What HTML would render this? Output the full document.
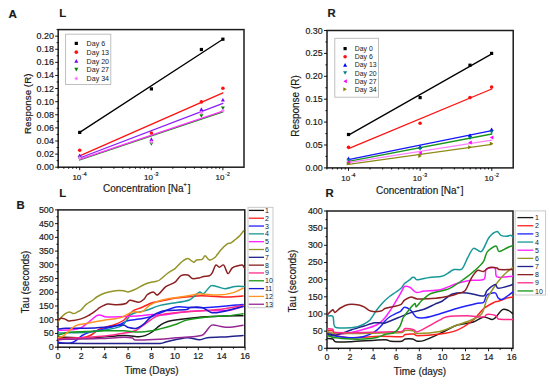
<!DOCTYPE html>
<html><head><meta charset="utf-8"><style>
html,body{margin:0;padding:0;background:#fff;width:550px;height:384px;overflow:hidden}
svg{display:block}
text{font-family:"Liberation Sans",sans-serif;stroke:#1a1a1a;stroke-width:0.18px}
text.ns{stroke:none}
</style></head><body>
<svg width="550" height="384" viewBox="0 0 550 384" font-family='"Liberation Sans", sans-serif'>
<rect width="550" height="384" fill="#fff"/>
<text x="8.5" y="18.4" font-size="11.6" text-anchor="start" font-weight="bold" fill="#1a1a1a" >A</text>
<text x="59.3" y="17" font-size="11.3" text-anchor="start" font-weight="bold" fill="#1a1a1a" >L</text>
<rect x="58.2" y="29.6" width="185.8" height="137.6" fill="none" stroke="#1c1c1c" stroke-width="1.5"/>
<line x1="55.2" y1="167.2" x2="58.2" y2="167.2" stroke="#000" stroke-width="0.9"/>
<text x="53.9" y="170.2" font-size="8.9" text-anchor="end" font-weight="normal" fill="#1a1a1a" >0.00</text>
<line x1="56.6" y1="160.65" x2="58.2" y2="160.65" stroke="#000" stroke-width="0.9"/>
<line x1="55.2" y1="154.1" x2="58.2" y2="154.1" stroke="#000" stroke-width="0.9"/>
<text x="53.9" y="157.1" font-size="8.9" text-anchor="end" font-weight="normal" fill="#1a1a1a" >0.02</text>
<line x1="56.6" y1="147.54" x2="58.2" y2="147.54" stroke="#000" stroke-width="0.9"/>
<line x1="55.2" y1="140.99" x2="58.2" y2="140.99" stroke="#000" stroke-width="0.9"/>
<text x="53.9" y="143.99" font-size="8.9" text-anchor="end" font-weight="normal" fill="#1a1a1a" >0.04</text>
<line x1="56.6" y1="134.44" x2="58.2" y2="134.44" stroke="#000" stroke-width="0.9"/>
<line x1="55.2" y1="127.89" x2="58.2" y2="127.89" stroke="#000" stroke-width="0.9"/>
<text x="53.9" y="130.89" font-size="8.9" text-anchor="end" font-weight="normal" fill="#1a1a1a" >0.06</text>
<line x1="56.6" y1="121.33" x2="58.2" y2="121.33" stroke="#000" stroke-width="0.9"/>
<line x1="55.2" y1="114.78" x2="58.2" y2="114.78" stroke="#000" stroke-width="0.9"/>
<text x="53.9" y="117.78" font-size="8.9" text-anchor="end" font-weight="normal" fill="#1a1a1a" >0.08</text>
<line x1="56.6" y1="108.23" x2="58.2" y2="108.23" stroke="#000" stroke-width="0.9"/>
<line x1="55.2" y1="101.68" x2="58.2" y2="101.68" stroke="#000" stroke-width="0.9"/>
<text x="53.9" y="104.68" font-size="8.9" text-anchor="end" font-weight="normal" fill="#1a1a1a" >0.10</text>
<line x1="56.6" y1="95.12" x2="58.2" y2="95.12" stroke="#000" stroke-width="0.9"/>
<line x1="55.2" y1="88.57" x2="58.2" y2="88.57" stroke="#000" stroke-width="0.9"/>
<text x="53.9" y="91.57" font-size="8.9" text-anchor="end" font-weight="normal" fill="#1a1a1a" >0.12</text>
<line x1="56.6" y1="82.02" x2="58.2" y2="82.02" stroke="#000" stroke-width="0.9"/>
<line x1="55.2" y1="75.47" x2="58.2" y2="75.47" stroke="#000" stroke-width="0.9"/>
<text x="53.9" y="78.47" font-size="8.9" text-anchor="end" font-weight="normal" fill="#1a1a1a" >0.14</text>
<line x1="56.6" y1="68.91" x2="58.2" y2="68.91" stroke="#000" stroke-width="0.9"/>
<line x1="55.2" y1="62.36" x2="58.2" y2="62.36" stroke="#000" stroke-width="0.9"/>
<text x="53.9" y="65.36" font-size="8.9" text-anchor="end" font-weight="normal" fill="#1a1a1a" >0.16</text>
<line x1="56.6" y1="55.81" x2="58.2" y2="55.81" stroke="#000" stroke-width="0.9"/>
<line x1="55.2" y1="49.26" x2="58.2" y2="49.26" stroke="#000" stroke-width="0.9"/>
<text x="53.9" y="52.26" font-size="8.9" text-anchor="end" font-weight="normal" fill="#1a1a1a" >0.18</text>
<line x1="56.6" y1="42.7" x2="58.2" y2="42.7" stroke="#000" stroke-width="0.9"/>
<line x1="55.2" y1="36.15" x2="58.2" y2="36.15" stroke="#000" stroke-width="0.9"/>
<text x="53.9" y="39.15" font-size="8.9" text-anchor="end" font-weight="normal" fill="#1a1a1a" >0.20</text>
<line x1="56.6" y1="29.6" x2="58.2" y2="29.6" stroke="#000" stroke-width="0.9"/>
<line x1="58.15" y1="167.2" x2="58.15" y2="168.8" stroke="#000" stroke-width="0.9"/>
<line x1="63.82" y1="167.2" x2="63.82" y2="168.8" stroke="#000" stroke-width="0.9"/>
<line x1="68.61" y1="167.2" x2="68.61" y2="168.8" stroke="#000" stroke-width="0.9"/>
<line x1="72.76" y1="167.2" x2="72.76" y2="168.8" stroke="#000" stroke-width="0.9"/>
<line x1="76.42" y1="167.2" x2="76.42" y2="168.8" stroke="#000" stroke-width="0.9"/>
<line x1="79.7" y1="167.2" x2="79.7" y2="170.2" stroke="#000" stroke-width="0.9"/>
<line x1="101.25" y1="167.2" x2="101.25" y2="168.8" stroke="#000" stroke-width="0.9"/>
<line x1="113.86" y1="167.2" x2="113.86" y2="168.8" stroke="#000" stroke-width="0.9"/>
<line x1="122.81" y1="167.2" x2="122.81" y2="168.8" stroke="#000" stroke-width="0.9"/>
<line x1="129.75" y1="167.2" x2="129.75" y2="168.8" stroke="#000" stroke-width="0.9"/>
<line x1="135.42" y1="167.2" x2="135.42" y2="168.8" stroke="#000" stroke-width="0.9"/>
<line x1="140.21" y1="167.2" x2="140.21" y2="168.8" stroke="#000" stroke-width="0.9"/>
<line x1="144.36" y1="167.2" x2="144.36" y2="168.8" stroke="#000" stroke-width="0.9"/>
<line x1="148.02" y1="167.2" x2="148.02" y2="168.8" stroke="#000" stroke-width="0.9"/>
<line x1="151.3" y1="167.2" x2="151.3" y2="170.2" stroke="#000" stroke-width="0.9"/>
<line x1="172.85" y1="167.2" x2="172.85" y2="168.8" stroke="#000" stroke-width="0.9"/>
<line x1="185.46" y1="167.2" x2="185.46" y2="168.8" stroke="#000" stroke-width="0.9"/>
<line x1="194.41" y1="167.2" x2="194.41" y2="168.8" stroke="#000" stroke-width="0.9"/>
<line x1="201.35" y1="167.2" x2="201.35" y2="168.8" stroke="#000" stroke-width="0.9"/>
<line x1="207.02" y1="167.2" x2="207.02" y2="168.8" stroke="#000" stroke-width="0.9"/>
<line x1="211.81" y1="167.2" x2="211.81" y2="168.8" stroke="#000" stroke-width="0.9"/>
<line x1="215.96" y1="167.2" x2="215.96" y2="168.8" stroke="#000" stroke-width="0.9"/>
<line x1="219.62" y1="167.2" x2="219.62" y2="168.8" stroke="#000" stroke-width="0.9"/>
<line x1="222.9" y1="167.2" x2="222.9" y2="170.2" stroke="#000" stroke-width="0.9"/>
<text x="81.3" y="180.1" font-size="8.0" text-anchor="end" font-weight="normal" fill="#1a1a1a" >10</text>
<text x="82.1" y="176.4" font-size="5.2" text-anchor="start" font-weight="normal" fill="#1a1a1a" >-4</text>
<text x="152.9" y="180.1" font-size="8.0" text-anchor="end" font-weight="normal" fill="#1a1a1a" >10</text>
<text x="153.7" y="176.4" font-size="5.2" text-anchor="start" font-weight="normal" fill="#1a1a1a" >-3</text>
<text x="224.5" y="180.1" font-size="8.0" text-anchor="end" font-weight="normal" fill="#1a1a1a" >10</text>
<text x="225.3" y="176.4" font-size="5.2" text-anchor="start" font-weight="normal" fill="#1a1a1a" >-2</text>
<polyline points="79.7,160 222.9,111.8" fill="none" stroke="#009000" stroke-width="1.3" stroke-linejoin="round" stroke-linecap="round"/>
<polyline points="79.7,132.4 222.9,39.2" fill="none" stroke="#000000" stroke-width="1.3" stroke-linejoin="round" stroke-linecap="round"/>
<polyline points="79.7,155.8 222.9,92.9" fill="none" stroke="#ff1010" stroke-width="1.3" stroke-linejoin="round" stroke-linecap="round"/>
<polyline points="79.7,158 222.9,103.3" fill="none" stroke="#8a1cff" stroke-width="1.3" stroke-linejoin="round" stroke-linecap="round"/>
<polyline points="79.7,159.3 222.9,111.1" fill="none" stroke="#ff30ff" stroke-width="1.3" stroke-linejoin="round" stroke-linecap="round"/>
<rect x="78.1" y="130.8" width="3.2" height="3.2" fill="#000"/>
<rect x="149.8" y="87.3" width="3.2" height="3.2" fill="#000"/>
<rect x="199.8" y="47.9" width="3.2" height="3.2" fill="#000"/>
<rect x="221.3" y="37.6" width="3.2" height="3.2" fill="#000"/>
<circle cx="79.7" cy="150.2" r="1.8" fill="#ff1010"/>
<circle cx="151.4" cy="133" r="1.8" fill="#ff1010"/>
<circle cx="201.4" cy="101.9" r="1.8" fill="#ff1010"/>
<circle cx="222.9" cy="88.3" r="1.8" fill="#ff1010"/>
<polygon points="79.7,153.5 81.7,157.1 77.7,157.1" fill="#7a00ff"/>
<polygon points="151.4,137.3 153.4,140.9 149.4,140.9" fill="#7a00ff"/>
<polygon points="201.4,107.3 203.4,110.9 199.4,110.9" fill="#7a00ff"/>
<polygon points="222.9,97.9 224.9,101.5 220.9,101.5" fill="#7a00ff"/>
<polygon points="79.7,160.4 81.7,156.8 77.7,156.8" fill="#008000"/>
<polygon points="151.4,145.7 153.4,142.1 149.4,142.1" fill="#008000"/>
<polygon points="201.4,117.8 203.4,114.2 199.4,114.2" fill="#008000"/>
<polygon points="222.9,110 224.9,106.4 220.9,106.4" fill="#008000"/>
<polygon points="79.7,156 81.7,158 79.7,160 77.7,158" fill="#ff80ff"/>
<polygon points="151.4,139.9 153.4,141.9 151.4,143.9 149.4,141.9" fill="#ff80ff"/>
<polygon points="201.4,110.7 203.4,112.7 201.4,114.7 199.4,112.7" fill="#ff80ff"/>
<polygon points="222.9,108.6 224.9,110.6 222.9,112.6 220.9,110.6" fill="#ff80ff"/>
<rect x="65.6" y="34.2" width="45.2" height="50.3" fill="none" stroke="#b8b8b8" stroke-width="0.9"/>
<rect x="74.7" y="41.8" width="3.2" height="3.2" fill="#000"/>
<text x="86.6" y="46" font-size="7.1" text-anchor="start" font-weight="normal" fill="#1a1a1a" class="ns">Day 6</text>
<circle cx="76.3" cy="52.15" r="1.8" fill="#ff1010"/>
<text x="86.6" y="54.75" font-size="7.1" text-anchor="start" font-weight="normal" fill="#1a1a1a" class="ns">Day 13</text>
<polygon points="76.3,59.1 78.3,62.7 74.3,62.7" fill="#7a00ff"/>
<text x="86.6" y="63.5" font-size="7.1" text-anchor="start" font-weight="normal" fill="#1a1a1a" class="ns">Day 20</text>
<polygon points="76.3,71.45 78.3,67.85 74.3,67.85" fill="#008000"/>
<text x="86.6" y="72.25" font-size="7.1" text-anchor="start" font-weight="normal" fill="#1a1a1a" class="ns">Day 27</text>
<polygon points="76.3,76.4 78.3,78.4 76.3,80.4 74.3,78.4" fill="#ff80ff"/>
<text x="86.6" y="81" font-size="7.1" text-anchor="start" font-weight="normal" fill="#1a1a1a" class="ns">Day 34</text>
<text x="146.75" y="192" font-size="10.0" text-anchor="middle" font-weight="normal" fill="#1a1a1a" >Concentration [Na<tspan font-size="5.5" dy="-5.6">+</tspan><tspan dy="5.6" dx="0.9">]</tspan></text>
<text x="0" y="0" font-size="9.8" text-anchor="middle" font-weight="normal" fill="#1a1a1a" transform="translate(30.8,103.75) rotate(-90)">Response (R)</text>
<text x="327.5" y="17" font-size="11.3" text-anchor="start" font-weight="bold" fill="#1a1a1a" >R</text>
<rect x="327" y="30.5" width="186.2" height="137.4" fill="none" stroke="#1c1c1c" stroke-width="1.5"/>
<line x1="324" y1="167.9" x2="327" y2="167.9" stroke="#000" stroke-width="0.9"/>
<text x="322.7" y="170.9" font-size="8.9" text-anchor="end" font-weight="normal" fill="#1a1a1a" >0.00</text>
<line x1="325.4" y1="156.45" x2="327" y2="156.45" stroke="#000" stroke-width="0.9"/>
<line x1="324" y1="145" x2="327" y2="145" stroke="#000" stroke-width="0.9"/>
<text x="322.7" y="148" font-size="8.9" text-anchor="end" font-weight="normal" fill="#1a1a1a" >0.05</text>
<line x1="325.4" y1="133.55" x2="327" y2="133.55" stroke="#000" stroke-width="0.9"/>
<line x1="324" y1="122.1" x2="327" y2="122.1" stroke="#000" stroke-width="0.9"/>
<text x="322.7" y="125.1" font-size="8.9" text-anchor="end" font-weight="normal" fill="#1a1a1a" >0.10</text>
<line x1="325.4" y1="110.65" x2="327" y2="110.65" stroke="#000" stroke-width="0.9"/>
<line x1="324" y1="99.2" x2="327" y2="99.2" stroke="#000" stroke-width="0.9"/>
<text x="322.7" y="102.2" font-size="8.9" text-anchor="end" font-weight="normal" fill="#1a1a1a" >0.15</text>
<line x1="325.4" y1="87.75" x2="327" y2="87.75" stroke="#000" stroke-width="0.9"/>
<line x1="324" y1="76.3" x2="327" y2="76.3" stroke="#000" stroke-width="0.9"/>
<text x="322.7" y="79.3" font-size="8.9" text-anchor="end" font-weight="normal" fill="#1a1a1a" >0.20</text>
<line x1="325.4" y1="64.85" x2="327" y2="64.85" stroke="#000" stroke-width="0.9"/>
<line x1="324" y1="53.4" x2="327" y2="53.4" stroke="#000" stroke-width="0.9"/>
<text x="322.7" y="56.4" font-size="8.9" text-anchor="end" font-weight="normal" fill="#1a1a1a" >0.25</text>
<line x1="325.4" y1="41.95" x2="327" y2="41.95" stroke="#000" stroke-width="0.9"/>
<line x1="324" y1="30.5" x2="327" y2="30.5" stroke="#000" stroke-width="0.9"/>
<text x="322.7" y="33.5" font-size="8.9" text-anchor="end" font-weight="normal" fill="#1a1a1a" >0.30</text>
<line x1="326.93" y1="167.9" x2="326.93" y2="169.5" stroke="#000" stroke-width="0.9"/>
<line x1="332.6" y1="167.9" x2="332.6" y2="169.5" stroke="#000" stroke-width="0.9"/>
<line x1="337.4" y1="167.9" x2="337.4" y2="169.5" stroke="#000" stroke-width="0.9"/>
<line x1="341.56" y1="167.9" x2="341.56" y2="169.5" stroke="#000" stroke-width="0.9"/>
<line x1="345.22" y1="167.9" x2="345.22" y2="169.5" stroke="#000" stroke-width="0.9"/>
<line x1="348.5" y1="167.9" x2="348.5" y2="170.9" stroke="#000" stroke-width="0.9"/>
<line x1="370.07" y1="167.9" x2="370.07" y2="169.5" stroke="#000" stroke-width="0.9"/>
<line x1="382.69" y1="167.9" x2="382.69" y2="169.5" stroke="#000" stroke-width="0.9"/>
<line x1="391.64" y1="167.9" x2="391.64" y2="169.5" stroke="#000" stroke-width="0.9"/>
<line x1="398.58" y1="167.9" x2="398.58" y2="169.5" stroke="#000" stroke-width="0.9"/>
<line x1="404.25" y1="167.9" x2="404.25" y2="169.5" stroke="#000" stroke-width="0.9"/>
<line x1="409.05" y1="167.9" x2="409.05" y2="169.5" stroke="#000" stroke-width="0.9"/>
<line x1="413.21" y1="167.9" x2="413.21" y2="169.5" stroke="#000" stroke-width="0.9"/>
<line x1="416.87" y1="167.9" x2="416.87" y2="169.5" stroke="#000" stroke-width="0.9"/>
<line x1="420.15" y1="167.9" x2="420.15" y2="170.9" stroke="#000" stroke-width="0.9"/>
<line x1="441.72" y1="167.9" x2="441.72" y2="169.5" stroke="#000" stroke-width="0.9"/>
<line x1="454.34" y1="167.9" x2="454.34" y2="169.5" stroke="#000" stroke-width="0.9"/>
<line x1="463.29" y1="167.9" x2="463.29" y2="169.5" stroke="#000" stroke-width="0.9"/>
<line x1="470.23" y1="167.9" x2="470.23" y2="169.5" stroke="#000" stroke-width="0.9"/>
<line x1="475.9" y1="167.9" x2="475.9" y2="169.5" stroke="#000" stroke-width="0.9"/>
<line x1="480.7" y1="167.9" x2="480.7" y2="169.5" stroke="#000" stroke-width="0.9"/>
<line x1="484.86" y1="167.9" x2="484.86" y2="169.5" stroke="#000" stroke-width="0.9"/>
<line x1="488.52" y1="167.9" x2="488.52" y2="169.5" stroke="#000" stroke-width="0.9"/>
<line x1="491.8" y1="167.9" x2="491.8" y2="170.9" stroke="#000" stroke-width="0.9"/>
<text x="350.1" y="180.8" font-size="8.0" text-anchor="end" font-weight="normal" fill="#1a1a1a" >10</text>
<text x="350.9" y="177.1" font-size="5.2" text-anchor="start" font-weight="normal" fill="#1a1a1a" >-4</text>
<text x="421.75" y="180.8" font-size="8.0" text-anchor="end" font-weight="normal" fill="#1a1a1a" >10</text>
<text x="422.55" y="177.1" font-size="5.2" text-anchor="start" font-weight="normal" fill="#1a1a1a" >-3</text>
<text x="493.4" y="180.8" font-size="8.0" text-anchor="end" font-weight="normal" fill="#1a1a1a" >10</text>
<text x="494.2" y="177.1" font-size="5.2" text-anchor="start" font-weight="normal" fill="#1a1a1a" >-2</text>
<polyline points="348.5,135.1 491.8,53.9" fill="none" stroke="#000" stroke-width="1.3" stroke-linejoin="round" stroke-linecap="round"/>
<polyline points="348.5,148.6 491.8,89" fill="none" stroke="#ff1010" stroke-width="1.3" stroke-linejoin="round" stroke-linecap="round"/>
<polyline points="348.5,159.7 491.8,130.7" fill="none" stroke="#1515ff" stroke-width="1.3" stroke-linejoin="round" stroke-linecap="round"/>
<polyline points="348.5,161.4 491.8,134" fill="none" stroke="#1a961a" stroke-width="1.3" stroke-linejoin="round" stroke-linecap="round"/>
<polyline points="348.5,162.7 491.8,140.2" fill="none" stroke="#ff80ff" stroke-width="1.3" stroke-linejoin="round" stroke-linecap="round"/>
<polyline points="348.5,164.3 491.8,144.3" fill="none" stroke="#8c8c1a" stroke-width="1.3" stroke-linejoin="round" stroke-linecap="round"/>
<rect x="346.9" y="132.9" width="3.2" height="3.2" fill="#000"/>
<rect x="418.5" y="96" width="3.2" height="3.2" fill="#000"/>
<rect x="468.4" y="63.6" width="3.2" height="3.2" fill="#000"/>
<rect x="490" y="51.8" width="3.2" height="3.2" fill="#000"/>
<circle cx="348.5" cy="147.3" r="1.8" fill="#ff1010"/>
<circle cx="420.1" cy="123.2" r="1.8" fill="#ff1010"/>
<circle cx="470" cy="97.6" r="1.8" fill="#ff1010"/>
<circle cx="491.6" cy="87.1" r="1.8" fill="#ff1010"/>
<polygon points="348.5,156.6 350.5,160.2 346.5,160.2" fill="#0000ff"/>
<polygon points="420.1,145.1 422.1,148.7 418.1,148.7" fill="#0000ff"/>
<polygon points="470,133.4 472,137 468,137" fill="#0000ff"/>
<polygon points="491.6,127.4 493.6,131 489.6,131" fill="#0000ff"/>
<polygon points="348.5,162.3 350.5,158.7 346.5,158.7" fill="#008080"/>
<polygon points="420.1,150.8 422.1,147.2 418.1,147.2" fill="#008080"/>
<polygon points="470,140.1 472,136.5 468,136.5" fill="#008080"/>
<polygon points="491.6,134.1 493.6,130.5 489.6,130.5" fill="#008080"/>
<polygon points="346.7,162 350.3,160 350.3,164" fill="#ff00ff"/>
<polygon points="418.3,153 421.9,151 421.9,155" fill="#ff00ff"/>
<polygon points="468.2,142.6 471.8,140.6 471.8,144.6" fill="#ff00ff"/>
<polygon points="489.8,137.6 493.4,135.6 493.4,139.6" fill="#ff00ff"/>
<polygon points="350.3,163.5 346.7,161.5 346.7,165.5" fill="#808000"/>
<polygon points="421.9,156 418.3,154 418.3,158" fill="#808000"/>
<polygon points="471.8,147.2 468.2,145.2 468.2,149.2" fill="#808000"/>
<polygon points="493.4,143.6 489.8,141.6 489.8,145.6" fill="#808000"/>
<rect x="334.8" y="38.3" width="43.7" height="58.9" fill="none" stroke="#b8b8b8" stroke-width="0.9"/>
<rect x="343.5" y="47" width="3.2" height="3.2" fill="#000"/>
<text x="354.8" y="51.1" font-size="6.9" text-anchor="start" font-weight="normal" fill="#1a1a1a" class="ns">Day 0</text>
<circle cx="345.1" cy="56.75" r="1.8" fill="#ff1010"/>
<text x="354.8" y="59.25" font-size="6.9" text-anchor="start" font-weight="normal" fill="#1a1a1a" class="ns">Day 6</text>
<polygon points="345.1,63.1 347.1,66.7 343.1,66.7" fill="#0000ff"/>
<text x="354.8" y="67.4" font-size="6.9" text-anchor="start" font-weight="normal" fill="#1a1a1a" class="ns">Day 13</text>
<polygon points="345.1,74.85 347.1,71.25 343.1,71.25" fill="#008080"/>
<text x="354.8" y="75.55" font-size="6.9" text-anchor="start" font-weight="normal" fill="#1a1a1a" class="ns">Day 20</text>
<polygon points="343.3,81.2 346.9,79.2 346.9,83.2" fill="#ff00ff"/>
<text x="354.8" y="83.7" font-size="6.9" text-anchor="start" font-weight="normal" fill="#1a1a1a" class="ns">Day 27</text>
<polygon points="346.9,89.35 343.3,87.35 343.3,91.35" fill="#808000"/>
<text x="354.8" y="91.85" font-size="6.9" text-anchor="start" font-weight="normal" fill="#1a1a1a" class="ns">Day 34</text>
<text x="419.75" y="194.3" font-size="10.0" text-anchor="middle" font-weight="normal" fill="#1a1a1a" >Concentration [Na<tspan font-size="5.5" dy="-5.6">+</tspan><tspan dy="5.6" dx="0.9">]</tspan></text>
<text x="0" y="0" font-size="10.0" text-anchor="middle" font-weight="normal" fill="#1a1a1a" transform="translate(298.9,106) rotate(-90)">Response (R)</text>
<text x="16.4" y="209" font-size="11.3" text-anchor="start" font-weight="bold" fill="#1a1a1a" >B</text>
<text x="59.3" y="196.8" font-size="11.3" text-anchor="start" font-weight="bold" fill="#1a1a1a" >L</text>
<rect x="58" y="209.9" width="186.8" height="137.3" fill="none" stroke="#1c1c1c" stroke-width="1.5"/>
<line x1="55" y1="347.2" x2="58" y2="347.2" stroke="#000" stroke-width="0.9"/>
<text x="53.7" y="350.2" font-size="8.9" text-anchor="end" font-weight="normal" fill="#1a1a1a" >0</text>
<line x1="56.4" y1="340.33" x2="58" y2="340.33" stroke="#000" stroke-width="0.9"/>
<line x1="55" y1="333.47" x2="58" y2="333.47" stroke="#000" stroke-width="0.9"/>
<text x="53.7" y="336.47" font-size="8.9" text-anchor="end" font-weight="normal" fill="#1a1a1a" >50</text>
<line x1="56.4" y1="326.61" x2="58" y2="326.61" stroke="#000" stroke-width="0.9"/>
<line x1="55" y1="319.74" x2="58" y2="319.74" stroke="#000" stroke-width="0.9"/>
<text x="53.7" y="322.74" font-size="8.9" text-anchor="end" font-weight="normal" fill="#1a1a1a" >100</text>
<line x1="56.4" y1="312.88" x2="58" y2="312.88" stroke="#000" stroke-width="0.9"/>
<line x1="55" y1="306.01" x2="58" y2="306.01" stroke="#000" stroke-width="0.9"/>
<text x="53.7" y="309.01" font-size="8.9" text-anchor="end" font-weight="normal" fill="#1a1a1a" >150</text>
<line x1="56.4" y1="299.14" x2="58" y2="299.14" stroke="#000" stroke-width="0.9"/>
<line x1="55" y1="292.28" x2="58" y2="292.28" stroke="#000" stroke-width="0.9"/>
<text x="53.7" y="295.28" font-size="8.9" text-anchor="end" font-weight="normal" fill="#1a1a1a" >200</text>
<line x1="56.4" y1="285.42" x2="58" y2="285.42" stroke="#000" stroke-width="0.9"/>
<line x1="55" y1="278.55" x2="58" y2="278.55" stroke="#000" stroke-width="0.9"/>
<text x="53.7" y="281.55" font-size="8.9" text-anchor="end" font-weight="normal" fill="#1a1a1a" >250</text>
<line x1="56.4" y1="271.69" x2="58" y2="271.69" stroke="#000" stroke-width="0.9"/>
<line x1="55" y1="264.82" x2="58" y2="264.82" stroke="#000" stroke-width="0.9"/>
<text x="53.7" y="267.82" font-size="8.9" text-anchor="end" font-weight="normal" fill="#1a1a1a" >300</text>
<line x1="56.4" y1="257.95" x2="58" y2="257.95" stroke="#000" stroke-width="0.9"/>
<line x1="55" y1="251.09" x2="58" y2="251.09" stroke="#000" stroke-width="0.9"/>
<text x="53.7" y="254.09" font-size="8.9" text-anchor="end" font-weight="normal" fill="#1a1a1a" >350</text>
<line x1="56.4" y1="244.23" x2="58" y2="244.23" stroke="#000" stroke-width="0.9"/>
<line x1="55" y1="237.36" x2="58" y2="237.36" stroke="#000" stroke-width="0.9"/>
<text x="53.7" y="240.36" font-size="8.9" text-anchor="end" font-weight="normal" fill="#1a1a1a" >400</text>
<line x1="56.4" y1="230.5" x2="58" y2="230.5" stroke="#000" stroke-width="0.9"/>
<line x1="55" y1="223.63" x2="58" y2="223.63" stroke="#000" stroke-width="0.9"/>
<text x="53.7" y="226.63" font-size="8.9" text-anchor="end" font-weight="normal" fill="#1a1a1a" >450</text>
<line x1="56.4" y1="216.77" x2="58" y2="216.77" stroke="#000" stroke-width="0.9"/>
<line x1="55" y1="209.9" x2="58" y2="209.9" stroke="#000" stroke-width="0.9"/>
<text x="53.7" y="212.9" font-size="8.9" text-anchor="end" font-weight="normal" fill="#1a1a1a" >500</text>
<line x1="57.9" y1="347.2" x2="57.9" y2="350.2" stroke="#000" stroke-width="0.9"/>
<text x="57.9" y="358.8" font-size="8.9" text-anchor="middle" font-weight="normal" fill="#1a1a1a" >0</text>
<line x1="69.6" y1="347.2" x2="69.6" y2="348.8" stroke="#000" stroke-width="0.9"/>
<line x1="81.3" y1="347.2" x2="81.3" y2="350.2" stroke="#000" stroke-width="0.9"/>
<text x="81.3" y="358.8" font-size="8.9" text-anchor="middle" font-weight="normal" fill="#1a1a1a" >2</text>
<line x1="93" y1="347.2" x2="93" y2="348.8" stroke="#000" stroke-width="0.9"/>
<line x1="104.7" y1="347.2" x2="104.7" y2="350.2" stroke="#000" stroke-width="0.9"/>
<text x="104.7" y="358.8" font-size="8.9" text-anchor="middle" font-weight="normal" fill="#1a1a1a" >4</text>
<line x1="116.4" y1="347.2" x2="116.4" y2="348.8" stroke="#000" stroke-width="0.9"/>
<line x1="128.1" y1="347.2" x2="128.1" y2="350.2" stroke="#000" stroke-width="0.9"/>
<text x="128.1" y="358.8" font-size="8.9" text-anchor="middle" font-weight="normal" fill="#1a1a1a" >6</text>
<line x1="139.8" y1="347.2" x2="139.8" y2="348.8" stroke="#000" stroke-width="0.9"/>
<line x1="151.5" y1="347.2" x2="151.5" y2="350.2" stroke="#000" stroke-width="0.9"/>
<text x="151.5" y="358.8" font-size="8.9" text-anchor="middle" font-weight="normal" fill="#1a1a1a" >8</text>
<line x1="163.2" y1="347.2" x2="163.2" y2="348.8" stroke="#000" stroke-width="0.9"/>
<line x1="174.9" y1="347.2" x2="174.9" y2="350.2" stroke="#000" stroke-width="0.9"/>
<text x="174.9" y="358.8" font-size="8.9" text-anchor="middle" font-weight="normal" fill="#1a1a1a" >10</text>
<line x1="186.6" y1="347.2" x2="186.6" y2="348.8" stroke="#000" stroke-width="0.9"/>
<line x1="198.3" y1="347.2" x2="198.3" y2="350.2" stroke="#000" stroke-width="0.9"/>
<text x="198.3" y="358.8" font-size="8.9" text-anchor="middle" font-weight="normal" fill="#1a1a1a" >12</text>
<line x1="210" y1="347.2" x2="210" y2="348.8" stroke="#000" stroke-width="0.9"/>
<line x1="221.7" y1="347.2" x2="221.7" y2="350.2" stroke="#000" stroke-width="0.9"/>
<text x="221.7" y="358.8" font-size="8.9" text-anchor="middle" font-weight="normal" fill="#1a1a1a" >14</text>
<line x1="233.4" y1="347.2" x2="233.4" y2="348.8" stroke="#000" stroke-width="0.9"/>
<line x1="245.1" y1="347.2" x2="245.1" y2="350.2" stroke="#000" stroke-width="0.9"/>
<text x="245.1" y="358.8" font-size="8.9" text-anchor="middle" font-weight="normal" fill="#1a1a1a" >16</text>
<g clip-path="url(#clipB)">
<path d="M58,337 C62.8,337.15 80.26,338.24 90,338 C100.06,337.76 115.17,335.63 124,335.4 C129.87,335.24 135.15,336.66 139,336.7 C141.45,336.72 143.22,336.21 145,335.6 C146.9,334.95 149.45,333.7 151.25,332.5 C153.2,331.21 155.59,328.74 157.5,327.3 C159.34,325.92 161.65,324.07 163.75,323.1 C166,322.06 168.32,321.22 172,320.6 C178.29,319.54 189.8,318.18 197,317.5 C203.57,316.88 211.31,316.49 217.9,316.25 C225.11,315.98 239.24,315.87 243,315.8" fill="none" stroke="#1a1a1a" stroke-width="1.5" stroke-linejoin="round" stroke-linecap="round"/>
<path d="M58,338.6 C60.7,338.53 71.19,338.36 76,338.1 C79.59,337.91 83.34,337.7 86,337.1 C88.14,336.62 90.19,335.59 92,334.5 C94.09,333.25 96.73,330.47 99,329.3 C101.23,328.16 104.6,327.52 107,326.8 C109.4,326.08 112.57,325.47 115,324.5 C117.67,323.43 121.49,321.91 124,320 C126.8,317.86 129.93,312.99 132.7,311 C135.03,309.33 138.33,308.94 141,307.8 C144.12,306.48 148.87,303.87 152,302.8 C154.57,301.92 157,301.88 160,301.3 C164.28,300.47 171.02,298.85 176.25,298.1 C182.12,297.26 191.52,296.37 197,296 C200.89,295.74 203.6,295.88 207.5,296 C212.99,296.18 222.52,297 228.3,297 C233.17,297 240.8,296.15 243,296" fill="none" stroke="#ff2020" stroke-width="1.5" stroke-linejoin="round" stroke-linecap="round"/>
<path d="M58,342.3 C59.11,342.45 63.26,343.22 65.4,343.3 C67.37,343.37 70.02,343.22 71.7,342.8 C73.14,342.44 74.46,341.64 75.8,340.7 C77.58,339.45 80.04,336.75 82.1,335.5 C84.12,334.26 87.18,333.12 89.4,332.4 C91.56,331.71 94.44,331.33 96.7,330.8 C99.12,330.23 101.99,329.58 105,328.75 C109.16,327.6 116.61,325.63 120.6,324.2 C123.36,323.21 125.02,321.39 127.5,320.7 C130.54,319.86 135.45,319.71 139,319.1 C142.8,318.45 148.52,317.51 152,316.5 C154.82,315.68 156.98,314.18 160,313 C164.25,311.33 171.43,307.86 176.25,307 C180.67,306.21 186.27,307.43 190.8,307.5 C195.65,307.58 201.14,307.88 207.5,307.5 C216.8,306.95 237.68,304.86 243,304.4" fill="none" stroke="#2020ff" stroke-width="1.5" stroke-linejoin="round" stroke-linecap="round"/>
<path d="M58,333 C59.8,332.97 66.1,332.91 70,332.8 C74.5,332.67 80.98,332.6 86,332.2 C91.48,331.76 99.48,331.01 105,330 C110.31,329.03 117.96,328.04 122.1,325.6 C125.84,323.39 127.75,316.73 131.25,314.5 C134.8,312.23 141.32,311.96 145.6,310.6 C149.94,309.23 155.81,306.56 160,305.4 C163.73,304.37 168.01,304.04 172,303.3 C176.8,302.42 184.87,301.8 189.3,300 C193.06,298.47 196.62,293.38 199.3,292.2 C200.91,291.49 202.24,294.46 203.6,293.7 C205.69,292.54 208.57,287.05 210.8,285.8 C212.44,284.89 214.59,286.11 216.5,286.5 C218.88,286.98 222.41,288.7 225.1,288.7 C227.99,288.7 232.14,286.84 235.1,286.5 C237.93,286.18 243,286.5 244.4,286.5" fill="none" stroke="#189898" stroke-width="1.5" stroke-linejoin="round" stroke-linecap="round"/>
<path d="M58,330.3 C59.89,330.23 67,330.21 70.6,329.8 C73.9,329.43 78.17,328.95 81,327.7 C83.81,326.46 86.98,323.35 89.4,321.5 C91.69,319.75 94.65,316.83 96.7,315.7 C98.07,314.94 99.58,315.04 100.8,315.2 C102.07,315.37 103.63,316.53 105,316.8 C106.51,317.1 108.07,317.13 110.4,317.1 C114.37,317.04 121.52,316.7 126,316.5 C130.1,316.31 135.1,316.1 139,315.8 C142.9,315.5 148.47,314.6 152,314.5 C154.77,314.42 156.32,315.5 160,315.2 C166.73,314.66 179.12,312.43 186.7,311.7 C193.37,311.05 201.26,310.77 207.5,310.6 C213.74,310.44 222.56,311.26 228.3,310.6 C233.21,310.03 240.8,307.12 243,306.5" fill="none" stroke="#ff20ff" stroke-width="1.5" stroke-linejoin="round" stroke-linecap="round"/>
<path d="M58.1,321.5 C58.57,320.87 60.17,318.47 61.25,317.3 C62.36,316.1 64.08,314.42 65.4,313.6 C66.58,312.86 68.34,312.1 69.6,312.1 C70.85,312.1 72.52,313.67 73.75,313.6 C75.01,313.52 76.74,312.18 77.9,311.6 C78.91,311.1 79.99,310.87 81,310 C82.5,308.71 84.47,305.88 86.25,304.4 C88.07,302.88 91.23,301.26 93,300 C94.36,299.04 95.19,297.88 96.7,297 C98.79,295.78 102.3,293.9 105,293 C107.91,292.04 112.42,291.15 115.4,290.8 C118.04,290.49 121.56,290.61 123.75,290.8 C125.34,290.94 126.59,292.04 128,291.9 C129.72,291.74 131.92,290.82 134.2,289.8 C137.53,288.3 143.16,284.88 146.7,283.5 C149.52,282.39 153.13,282.12 155.4,281.5 C157,281.07 158.13,280.99 159.6,280 C161.91,278.44 165.53,274.83 168,273 C170.15,271.41 172.98,270.24 175,268.6 C177.24,266.79 180.04,263.17 182.2,261.5 C183.91,260.17 186.21,258.5 187.9,258.6 C189.63,258.71 192.11,261.96 193.6,262.2 C194.69,262.38 195.36,260.39 196.5,260 C197.94,259.52 200.84,259.98 202.2,259.3 C203.42,258.69 204.09,255.6 205.1,255.7 C206.25,255.81 207.92,259.78 209.4,260 C210.92,260.23 213.55,258.56 215.1,257.2 C216.97,255.56 218.93,252.03 220.8,250 C222.68,247.95 225.72,244.91 227.6,243.6 C228.69,242.84 229.71,243.62 230.7,243.1 C232.05,242.39 234.12,240.52 235.4,239.5 C236.46,238.66 237.66,237.66 238.5,236.9 C239.22,236.25 239.92,235.61 240.6,234.8 C241.5,233.72 243.28,231.23 243.75,230.6" fill="none" stroke="#949428" stroke-width="1.5" stroke-linejoin="round" stroke-linecap="round"/>
<path d="M58,343.3 C65.05,343.33 90.3,343.49 105,343.5 C120.9,343.52 146.29,343.76 160,343.4 C164.53,343.28 163.02,342.49 165.8,341.9 C171.03,340.78 181.04,338.06 186.7,337.7 C191.06,337.43 195.77,339.8 199.2,339.8 C202.01,339.8 204.09,338.06 207.5,337.7 C212.82,337.13 222.52,337.04 228.3,336.7 C233.17,336.41 240.8,335.77 243,335.6" fill="none" stroke="#22228c" stroke-width="1.5" stroke-linejoin="round" stroke-linecap="round"/>
<path d="M58.1,319.9 C58.57,319.66 60.28,318.46 61.25,318.3 C62.17,318.15 63.41,318.5 64.4,318.85 C65.59,319.28 67.15,320.68 68.5,320.9 C69.95,321.14 72.03,320.68 73.75,320.4 C75.78,320.07 78.86,319.54 81,318.85 C83.22,318.13 86.09,316.95 88.3,315.7 C90.8,314.29 94.56,311.52 96.7,310 C98.07,309.03 98.62,308.13 100,307.4 C101.95,306.36 105.31,304.48 107.8,304.1 C110.38,303.7 114.17,304.89 116.9,304.8 C119.63,304.71 123.76,304.29 126,303.5 C127.69,302.91 128.33,300.37 130,300.2 C132.23,299.98 136.65,302.41 139,302.2 C140.94,302.02 143.03,300.06 144.3,298.9 C145.4,297.9 145.69,295.94 146.9,295 C148.39,293.84 151.59,291.9 153.3,291.9 C154.77,291.9 156,295.62 157.5,295 C159.75,294.06 163.09,288.69 165.8,286.7 C168.34,284.85 172.67,283.91 175,282.2 C177.14,280.64 178.68,276.91 180.7,275.8 C182.55,274.78 186.06,274.65 187.9,275.1 C189.51,275.49 190.6,278.21 192.2,278.6 C194.02,279.05 197.4,278.25 199.3,277.9 C200.82,277.62 202.18,276.79 203.6,276.5 C205.21,276.16 207.99,276.39 209.4,275.8 C210.57,275.31 211.42,274.21 212.2,272.9 C213.34,270.97 214.53,266.01 215.8,265 C216.69,264.3 218.26,267.2 219.4,267.2 C220.63,267.2 222.63,264.2 223.7,265 C225.21,266.12 226.61,273.13 228,273.6 C229.19,274 230.74,269.12 232.3,267.9 C233.74,266.78 236.38,266.27 238,265.8 C239.38,265.4 241.29,264.67 242.3,265 C243.21,265.3 244.09,267.46 244.4,267.9" fill="none" stroke="#8c2020" stroke-width="1.5" stroke-linejoin="round" stroke-linecap="round"/>
<path d="M58,339.7 C60.67,339.46 69.62,338.59 75.8,338.1 C83.72,337.48 96.87,336.86 105,336 C111.93,335.27 120.56,333.74 126,332.8 C129.62,332.18 132.48,332.08 135.2,330.8 C138.36,329.32 142.52,325.72 145.6,323.6 C148.58,321.55 152.3,318.41 155.4,316.9 C158.36,315.46 161.87,314.4 165.8,313.75 C171.26,312.84 179.66,312.26 186.7,311.7 C195.29,311.02 209.02,310.59 217.9,309.6 C225.91,308.7 239.24,306.03 243,305.4" fill="none" stroke="#ff2a8a" stroke-width="1.5" stroke-linejoin="round" stroke-linecap="round"/>
<path d="M58,335.2 C59.59,334.75 64.86,332.68 68.6,332.2 C73.34,331.6 80.87,331.81 86.25,331.6 C91.79,331.39 99.4,330.92 105,330.8 C110.54,330.68 118.09,330.6 123.4,330.8 C128.29,330.99 134.52,332.1 139,332.1 C143.1,332.1 148.49,331.34 152,330.8 C154.79,330.38 157.01,329.71 160,328.9 C164.29,327.73 171.84,325.67 176.25,324.2 C179.85,323 182.74,320.93 186.7,320 C192.11,318.74 201.25,317.53 207.5,316.9 C213.73,316.27 222.52,316.31 228.3,315.8 C233.17,315.37 240.8,314.06 243,313.75" fill="none" stroke="#1a961a" stroke-width="1.5" stroke-linejoin="round" stroke-linecap="round"/>
<path d="M58,329.3 C59.11,329.13 62.23,328.32 65.4,328.2 C70.7,327.99 80.15,328.35 86.25,328.2 C92.03,328.05 100.15,327.55 105,327.2 C108.18,326.97 110.42,326.56 113,326.25 C115.94,325.9 120.72,324.77 123.4,325 C125.4,325.17 126.79,327.16 128.6,327.6 C130.72,328.12 134.22,328.78 136.5,328.2 C138.93,327.58 142.09,325.37 144.3,323.6 C146.74,321.65 149.52,317.65 152,315.8 C154.23,314.14 157.72,312.76 160,311.9 C161.86,311.2 163.02,310.84 165.8,310.6 C171.03,310.15 181.63,310.25 186.7,309.6 C188.89,309.32 188.33,307.73 190,307.5 C192.92,307.1 198.67,306.7 202,307.5 C205.18,308.26 208.65,312.06 211.7,312.7 C214.65,313.32 218.16,312.46 222,311.7 C227.55,310.6 239.85,307.28 243,306.5" fill="none" stroke="#1a1ad0" stroke-width="1.5" stroke-linejoin="round" stroke-linecap="round"/>
<path d="M58.1,337.6 C58.88,337.36 61.77,336.97 63.3,336 C65.22,334.78 67.68,331.89 69.6,330.3 C71.43,328.77 73.5,326.54 75.8,325.6 C78.49,324.5 83.11,324.12 86.25,323.5 C89.38,322.89 93.73,322.07 96.7,321.5 C99.35,320.99 102.52,320.26 105,319.9 C107.41,319.54 110.53,319.5 113,319.1 C115.66,318.66 119.33,318.12 122.1,317.1 C125.21,315.96 129.47,312.73 132.6,311.9 C135.35,311.17 139.23,312.85 141.7,311.9 C144.3,310.9 147.07,307.02 149.5,305.4 C151.75,303.9 154.86,302.43 157.3,301.5 C159.75,300.57 162.34,299.85 165.8,299.2 C171.16,298.2 181.05,296.88 186.7,296 C191.07,295.32 194.98,294.14 199.2,294 C204.34,293.84 212.61,295.17 217.9,295 C222.6,294.84 228.5,293.97 232.5,292.9 C236.03,291.96 241.43,288.99 243,288.3" fill="none" stroke="#ff9422" stroke-width="1.5" stroke-linejoin="round" stroke-linecap="round"/>
<path d="M58,339.5 C64.3,339.37 88.77,338.98 100,338.6 C108.39,338.32 117.39,337.41 123.4,337.3 C127.17,337.23 130.37,337.51 132.6,338 C133.91,338.29 133.02,339.8 135.2,339.9 C141.24,340.19 153.2,339.66 160,339.3 C165.52,339 171.04,338.13 176.25,337.7 C182.14,337.21 191.8,336.85 197,336.25 C199.91,335.92 201.46,335.99 203.3,334.6 C205.87,332.67 208.94,326.58 211.7,325.2 C213.95,324.08 217.51,325.94 220,326.25 C222.49,326.56 225.34,327.44 228.3,327.3 C232.24,327.12 240.8,325.51 243,325.2" fill="none" stroke="#962896" stroke-width="1.5" stroke-linejoin="round" stroke-linecap="round"/>
</g>
<rect x="248" y="207.3" width="25" height="100.4" fill="#fff" stroke="#c4c4c4" stroke-width="0.9"/>
<line x1="248.8" y1="210.4" x2="264" y2="210.4" stroke="#1a1a1a" stroke-width="1.3"/>
<text x="265" y="212.9" font-size="7.0" text-anchor="start" font-weight="normal" fill="#1a1a1a" class="ns">1</text>
<line x1="248.8" y1="218.22" x2="264" y2="218.22" stroke="#ff2020" stroke-width="1.3"/>
<text x="265" y="220.72" font-size="7.0" text-anchor="start" font-weight="normal" fill="#1a1a1a" class="ns">2</text>
<line x1="248.8" y1="226.04" x2="264" y2="226.04" stroke="#2020ff" stroke-width="1.3"/>
<text x="265" y="228.54" font-size="7.0" text-anchor="start" font-weight="normal" fill="#1a1a1a" class="ns">3</text>
<line x1="248.8" y1="233.86" x2="264" y2="233.86" stroke="#189898" stroke-width="1.3"/>
<text x="265" y="236.36" font-size="7.0" text-anchor="start" font-weight="normal" fill="#1a1a1a" class="ns">4</text>
<line x1="248.8" y1="241.68" x2="264" y2="241.68" stroke="#ff20ff" stroke-width="1.3"/>
<text x="265" y="244.18" font-size="7.0" text-anchor="start" font-weight="normal" fill="#1a1a1a" class="ns">5</text>
<line x1="248.8" y1="249.5" x2="264" y2="249.5" stroke="#949428" stroke-width="1.3"/>
<text x="265" y="252" font-size="7.0" text-anchor="start" font-weight="normal" fill="#1a1a1a" class="ns">6</text>
<line x1="248.8" y1="257.32" x2="264" y2="257.32" stroke="#22228c" stroke-width="1.3"/>
<text x="265" y="259.82" font-size="7.0" text-anchor="start" font-weight="normal" fill="#1a1a1a" class="ns">7</text>
<line x1="248.8" y1="265.14" x2="264" y2="265.14" stroke="#8c2020" stroke-width="1.3"/>
<text x="265" y="267.64" font-size="7.0" text-anchor="start" font-weight="normal" fill="#1a1a1a" class="ns">8</text>
<line x1="248.8" y1="272.96" x2="264" y2="272.96" stroke="#ff2a8a" stroke-width="1.3"/>
<text x="265" y="275.46" font-size="7.0" text-anchor="start" font-weight="normal" fill="#1a1a1a" class="ns">9</text>
<line x1="248.8" y1="280.78" x2="264" y2="280.78" stroke="#1a961a" stroke-width="1.3"/>
<text x="265" y="283.28" font-size="7.0" text-anchor="start" font-weight="normal" fill="#1a1a1a" class="ns">10</text>
<line x1="248.8" y1="288.6" x2="264" y2="288.6" stroke="#1a1ad0" stroke-width="1.3"/>
<text x="265" y="291.1" font-size="7.0" text-anchor="start" font-weight="normal" fill="#1a1a1a" class="ns">11</text>
<line x1="248.8" y1="296.42" x2="264" y2="296.42" stroke="#ff9422" stroke-width="1.3"/>
<text x="265" y="298.92" font-size="7.0" text-anchor="start" font-weight="normal" fill="#1a1a1a" class="ns">12</text>
<line x1="248.8" y1="304.24" x2="264" y2="304.24" stroke="#962896" stroke-width="1.3"/>
<text x="265" y="306.74" font-size="7.0" text-anchor="start" font-weight="normal" fill="#1a1a1a" class="ns">13</text>
<text x="151.45" y="374.2" font-size="10.0" text-anchor="middle" font-weight="normal" fill="#1a1a1a" >Time (Days)</text>
<text x="0" y="0" font-size="10.0" text-anchor="middle" font-weight="normal" fill="#1a1a1a" transform="translate(29.2,282) rotate(-90)">Tau (seconds)</text>
<text x="325.6" y="196.8" font-size="11.3" text-anchor="start" font-weight="bold" fill="#1a1a1a" >R</text>
<text x="376.6" y="191" font-size="9" text-anchor="start" font-weight="normal" fill="#1a1a1a" ></text>
<rect x="327" y="211" width="186" height="137.3" fill="none" stroke="#1c1c1c" stroke-width="1.5"/>
<line x1="324" y1="348.3" x2="327" y2="348.3" stroke="#000" stroke-width="0.9"/>
<text x="322.7" y="351.3" font-size="8.9" text-anchor="end" font-weight="normal" fill="#1a1a1a" >0</text>
<line x1="325.4" y1="339.72" x2="327" y2="339.72" stroke="#000" stroke-width="0.9"/>
<line x1="324" y1="331.14" x2="327" y2="331.14" stroke="#000" stroke-width="0.9"/>
<text x="322.7" y="334.14" font-size="8.9" text-anchor="end" font-weight="normal" fill="#1a1a1a" >50</text>
<line x1="325.4" y1="322.56" x2="327" y2="322.56" stroke="#000" stroke-width="0.9"/>
<line x1="324" y1="313.98" x2="327" y2="313.98" stroke="#000" stroke-width="0.9"/>
<text x="322.7" y="316.98" font-size="8.9" text-anchor="end" font-weight="normal" fill="#1a1a1a" >100</text>
<line x1="325.4" y1="305.39" x2="327" y2="305.39" stroke="#000" stroke-width="0.9"/>
<line x1="324" y1="296.81" x2="327" y2="296.81" stroke="#000" stroke-width="0.9"/>
<text x="322.7" y="299.81" font-size="8.9" text-anchor="end" font-weight="normal" fill="#1a1a1a" >150</text>
<line x1="325.4" y1="288.23" x2="327" y2="288.23" stroke="#000" stroke-width="0.9"/>
<line x1="324" y1="279.65" x2="327" y2="279.65" stroke="#000" stroke-width="0.9"/>
<text x="322.7" y="282.65" font-size="8.9" text-anchor="end" font-weight="normal" fill="#1a1a1a" >200</text>
<line x1="325.4" y1="271.07" x2="327" y2="271.07" stroke="#000" stroke-width="0.9"/>
<line x1="324" y1="262.49" x2="327" y2="262.49" stroke="#000" stroke-width="0.9"/>
<text x="322.7" y="265.49" font-size="8.9" text-anchor="end" font-weight="normal" fill="#1a1a1a" >250</text>
<line x1="325.4" y1="253.91" x2="327" y2="253.91" stroke="#000" stroke-width="0.9"/>
<line x1="324" y1="245.32" x2="327" y2="245.32" stroke="#000" stroke-width="0.9"/>
<text x="322.7" y="248.32" font-size="8.9" text-anchor="end" font-weight="normal" fill="#1a1a1a" >300</text>
<line x1="325.4" y1="236.74" x2="327" y2="236.74" stroke="#000" stroke-width="0.9"/>
<line x1="324" y1="228.16" x2="327" y2="228.16" stroke="#000" stroke-width="0.9"/>
<text x="322.7" y="231.16" font-size="8.9" text-anchor="end" font-weight="normal" fill="#1a1a1a" >350</text>
<line x1="325.4" y1="219.58" x2="327" y2="219.58" stroke="#000" stroke-width="0.9"/>
<line x1="324" y1="211" x2="327" y2="211" stroke="#000" stroke-width="0.9"/>
<text x="322.7" y="214" font-size="8.9" text-anchor="end" font-weight="normal" fill="#1a1a1a" >400</text>
<line x1="326.9" y1="348.3" x2="326.9" y2="351.3" stroke="#000" stroke-width="0.9"/>
<text x="326.9" y="359.9" font-size="8.9" text-anchor="middle" font-weight="normal" fill="#1a1a1a" >0</text>
<line x1="338.45" y1="348.3" x2="338.45" y2="349.9" stroke="#000" stroke-width="0.9"/>
<line x1="350" y1="348.3" x2="350" y2="351.3" stroke="#000" stroke-width="0.9"/>
<text x="350" y="359.9" font-size="8.9" text-anchor="middle" font-weight="normal" fill="#1a1a1a" >2</text>
<line x1="361.55" y1="348.3" x2="361.55" y2="349.9" stroke="#000" stroke-width="0.9"/>
<line x1="373.1" y1="348.3" x2="373.1" y2="351.3" stroke="#000" stroke-width="0.9"/>
<text x="373.1" y="359.9" font-size="8.9" text-anchor="middle" font-weight="normal" fill="#1a1a1a" >4</text>
<line x1="384.65" y1="348.3" x2="384.65" y2="349.9" stroke="#000" stroke-width="0.9"/>
<line x1="396.2" y1="348.3" x2="396.2" y2="351.3" stroke="#000" stroke-width="0.9"/>
<text x="396.2" y="359.9" font-size="8.9" text-anchor="middle" font-weight="normal" fill="#1a1a1a" >6</text>
<line x1="407.75" y1="348.3" x2="407.75" y2="349.9" stroke="#000" stroke-width="0.9"/>
<line x1="419.3" y1="348.3" x2="419.3" y2="351.3" stroke="#000" stroke-width="0.9"/>
<text x="419.3" y="359.9" font-size="8.9" text-anchor="middle" font-weight="normal" fill="#1a1a1a" >8</text>
<line x1="430.85" y1="348.3" x2="430.85" y2="349.9" stroke="#000" stroke-width="0.9"/>
<line x1="442.4" y1="348.3" x2="442.4" y2="351.3" stroke="#000" stroke-width="0.9"/>
<text x="442.4" y="359.9" font-size="8.9" text-anchor="middle" font-weight="normal" fill="#1a1a1a" >10</text>
<line x1="453.95" y1="348.3" x2="453.95" y2="349.9" stroke="#000" stroke-width="0.9"/>
<line x1="465.5" y1="348.3" x2="465.5" y2="351.3" stroke="#000" stroke-width="0.9"/>
<text x="465.5" y="359.9" font-size="8.9" text-anchor="middle" font-weight="normal" fill="#1a1a1a" >12</text>
<line x1="477.05" y1="348.3" x2="477.05" y2="349.9" stroke="#000" stroke-width="0.9"/>
<line x1="488.6" y1="348.3" x2="488.6" y2="351.3" stroke="#000" stroke-width="0.9"/>
<text x="488.6" y="359.9" font-size="8.9" text-anchor="middle" font-weight="normal" fill="#1a1a1a" >14</text>
<line x1="500.15" y1="348.3" x2="500.15" y2="349.9" stroke="#000" stroke-width="0.9"/>
<line x1="511.7" y1="348.3" x2="511.7" y2="351.3" stroke="#000" stroke-width="0.9"/>
<text x="511.7" y="359.9" font-size="8.9" text-anchor="middle" font-weight="normal" fill="#1a1a1a" >16</text>
<g clip-path="url(#clipR)">
<path d="M326.7,338.4 C327.62,338.49 331.34,338.44 332.8,339 C333.95,339.43 333.6,341.43 335.4,341.7 C339.06,342.24 344.99,341.94 351,341.7 C359.87,341.34 376.59,339.81 385,339.7 C388.56,339.66 388.74,341.01 390.9,341.2 C393.78,341.46 399.14,341.61 401.8,341.2 C403.4,340.95 403.73,339.28 405.1,339 C407,338.62 410.71,338.63 412.7,339 C414.31,339.29 415.58,340.98 417.1,341.2 C418.85,341.46 421.01,341.47 423.6,340.6 C427.88,339.16 435.09,335.79 440,333.5 C445.02,331.17 451.58,326.97 456.7,325.2 C461.57,323.52 468.86,323.36 473.3,322 C476.98,320.87 480.74,317.29 483.75,316.9 C486.35,316.57 489.91,319.42 492,319.6 C493.35,319.72 494.05,318.99 495.2,317.9 C497.2,315.99 500.19,310.85 502.5,309.6 C504.25,308.66 507.11,309.95 508.75,310.6 C510.23,311.19 512.28,313.28 512.9,313.75" fill="none" stroke="#1a1a1a" stroke-width="1.5" stroke-linejoin="round" stroke-linecap="round"/>
<path d="M326.7,330.6 C327.62,330.65 331.43,330.18 332.8,330.9 C334.04,331.56 333.43,334.45 335.4,335.2 C338.89,336.52 345.32,337.66 351,337.8 C358.7,337.99 371.84,336.46 380,336.3 C387.08,336.16 396.52,337.16 401.8,336.8 C404.05,336.65 403.65,334.93 405.1,334.6 C407.25,334.12 411.62,333.9 413.8,334.1 C415.22,334.23 414.86,335.7 417.1,335.7 C422.72,335.7 433.62,334.95 440,334.1 C445.5,333.36 451.87,332.44 456.7,330.4 C461.86,328.21 469.01,323.48 473.3,320 C477.12,316.91 480.42,311.32 483.75,308.5 C486.69,306.01 491.46,303.67 494.2,302.3 C495.82,301.49 496.77,301.76 498.3,301.25 C500.52,300.5 504.32,298.79 506.7,298.1 C508.7,297.52 511.97,297.17 512.9,297" fill="none" stroke="#ff2020" stroke-width="1.5" stroke-linejoin="round" stroke-linecap="round"/>
<path d="M326.7,334.5 C328,334.73 332.28,335.58 335.4,336 C339.57,336.57 346.51,337.72 351,337.8 C355.09,337.87 360.36,337.41 364,336.5 C367.41,335.64 371.78,333.58 374.5,331.9 C376.88,330.43 379.3,327.76 381,326 C382.45,324.49 383.64,322.4 385,321 C386.4,319.55 388.47,317.65 390.2,316.5 C391.98,315.31 394.94,314.09 396.7,313.2 C398.06,312.51 399.5,312.08 400.6,311.25 C401.84,310.31 403.05,307.39 404.5,307.3 C406.17,307.2 409.3,309.18 411,310.6 C412.82,312.12 414.27,316 416.25,317.1 C418.17,318.16 421.45,318.06 424,317.8 C427.07,317.49 430.94,316.35 435,315.2 C440.75,313.56 450.23,310.31 456.7,308.5 C462.98,306.74 472.24,304.51 477.5,303.3 C480.36,302.65 482.42,303.47 483.75,302.3 C485.24,300.98 485.21,296.38 486.9,295 C488.65,293.56 493.34,292.39 495.2,292.9 C496.76,293.32 497.11,297.08 498.3,298.1 C499.3,298.97 500.88,299.89 502.5,299.2 C505.26,298.03 511.34,293 512.9,291.9" fill="none" stroke="#2020ff" stroke-width="1.5" stroke-linejoin="round" stroke-linecap="round"/>
<path d="M326.7,316.3 C327.62,316.3 331.75,314.95 332.8,316.3 C334.18,318.07 333.01,324.91 334.8,326.7 C336.52,328.42 341.33,328 344.5,328 C348.17,328 354.21,327.4 357.6,326.7 C360.06,326.2 362.16,325 364,324 C365.88,322.99 368.35,321.82 370,320 C372.1,317.68 374.48,312.94 376.5,310.2 C378.38,307.66 380.98,304.53 383,302.4 C384.88,300.42 387.5,298.1 389.5,296.5 C391.4,294.98 394.15,293.33 396,292 C397.69,290.78 399.97,289.33 401.3,288 C402.52,286.78 403.26,284.7 404.5,283.5 C405.87,282.18 408.62,280.68 410,279.6 C410.93,278.88 411.48,277.84 412.2,277.5 C412.83,277.21 413.86,277.19 414.5,277.5 C415.27,277.88 415.39,279.8 416.9,279.8 C419.86,279.8 425.63,278.03 429.4,277.5 C433.16,276.97 438.68,277.15 442,276.25 C444.77,275.5 447.65,273.16 449.7,272 C451.25,271.13 452.38,269.9 454,269.5 C456.04,269 460.09,270.56 461.9,269 C464.2,267.02 465.88,260.9 467.7,257.7 C469.39,254.72 471.41,249.39 473.6,248.4 C475.52,247.53 479.44,252.9 481.4,251.5 C484.12,249.54 486.56,240.6 489.2,237.2 C491.24,234.57 495,231.73 497,231.4 C498.51,231.16 499.46,234.59 500.9,235.3 C502.4,236.04 505.18,236.25 506.8,236.25 C508.12,236.25 509.7,235.15 510.7,235.3 C511.56,235.43 512.65,236.91 513,237.2" fill="none" stroke="#189898" stroke-width="1.5" stroke-linejoin="round" stroke-linecap="round"/>
<path d="M326.7,331.25 C328,331.74 332.23,334.34 335.4,334.5 C339.52,334.71 346.54,333.31 351,332.5 C355.12,331.75 360.16,330.43 364,329.3 C367.81,328.18 373.31,326.56 376.5,325 C379.01,323.77 381.18,321.89 383,320 C385.08,317.84 387.62,314.25 389.5,311.5 C391.52,308.55 394.16,304.05 396,301 C397.7,298.2 399.87,294.44 401.3,292 C402.42,290.09 403.15,287.21 404.5,286.5 C405.76,285.83 408.4,286.59 410,287.4 C411.92,288.36 414.14,291.84 416.25,292.4 C418.34,292.95 421.05,291.43 424,291.1 C428.26,290.62 435.48,290.82 440.3,289.7 C445.29,288.54 452.03,285 456.7,283.5 C460.7,282.21 465.27,281 469.2,280.4 C473.38,279.77 481,281.12 483.75,279.4 C485.98,278 485.08,272.23 485.8,270 C486.14,268.96 486.35,268.72 487.3,268.5 C489.11,268.09 493.61,266.7 495,267.9 C496.52,269.22 494.68,275.82 497,276.9 C500.05,278.32 510.51,276.35 512.9,276.25" fill="none" stroke="#ff20ff" stroke-width="1.5" stroke-linejoin="round" stroke-linecap="round"/>
<path d="M326.7,331.5 C328,331.8 330.46,333.36 335.4,333.5 C346.45,333.81 368.28,333.18 380,333 C388.2,332.88 396.5,333.03 401.8,332.5 C404.03,332.28 403.66,330.68 405.1,330.5 C407.26,330.23 411.78,330.44 413.8,331 C415.05,331.34 413.87,333.47 416,333.5 C421.73,333.59 433.44,332.74 440,331.4 C445.65,330.25 451.85,326.97 456.7,325.2 C461.22,323.55 467.28,321.82 471.25,320 C474.78,318.38 479.49,316.68 481.7,313.75 C484.19,310.44 484.99,303.3 486.9,299.2 C488.74,295.27 491.96,290.36 494.2,287 C496.19,284 498.94,280.41 501,278 C502.78,275.91 505.16,273.63 507,272 C508.73,270.48 512.01,268.18 512.9,267.5" fill="none" stroke="#949428" stroke-width="1.5" stroke-linejoin="round" stroke-linecap="round"/>
<path d="M326.7,333.2 C328,333.5 332.31,335.61 335.4,335.2 C339.6,334.65 346.51,331.45 351,330 C355.09,328.69 360.29,327.14 364,326 C367.34,324.98 371.67,323.36 374.5,322.8 C376.56,322.4 378.64,322.77 380.3,322.8 C381.79,322.83 383.05,323.55 385,323 C388.36,322.05 394.1,319.36 398,317.8 C401.9,316.24 407.06,313.89 411,312.6 C414.86,311.34 420.31,310.61 424,309.3 C427.51,308.06 431.98,305.45 435,304.1 C437.38,303.04 439.72,302.57 442,301.25 C444.97,299.54 448.87,295.21 452.5,294 C456.37,292.71 462.5,292.61 467,292.9 C471.87,293.21 480.01,296.39 483.75,296 C485.98,295.76 485.41,292.28 486.9,290.8 C488.85,288.86 493.17,285.05 495.2,284.6 C496.59,284.3 496.38,288.3 498.3,288.3 C501.69,288.3 510.71,285.16 512.9,284.6" fill="none" stroke="#22228c" stroke-width="1.5" stroke-linejoin="round" stroke-linecap="round"/>
<path d="M326.7,315.6 C327.62,314.73 331.3,310.39 332.8,309.8 C333.73,309.43 333.87,312.62 334.8,312.4 C336.18,312.08 338.55,309.12 340.5,308 C342.63,306.78 345.78,305.03 348.4,304.6 C351.3,304.13 356.14,304.54 358.9,305 C361.03,305.35 363,306.41 364.7,307.3 C366.51,308.24 368.39,310.59 370.6,311.1 C373.28,311.73 378.42,311.57 381,311.1 C382.74,310.79 383.46,309.08 385,308.5 C387,307.76 390.46,307.27 392.8,306.7 C395.14,306.13 398.71,305.75 400.6,304.7 C402.22,303.8 403.02,301.31 404.5,300.2 C406.14,298.97 409.02,297.1 411,296.9 C412.92,296.71 414.68,298.75 417.5,298.9 C422.12,299.14 430.65,298.66 435.8,298.2 C440.31,297.79 446.05,296.73 449.7,296 C452.32,295.47 454.52,294.74 456.7,294 C459.11,293.18 463.06,292.89 465,290.8 C467.43,288.18 469.22,281.61 471.25,278.3 C472.97,275.49 475.44,271.57 477.5,270.4 C479.09,269.5 481.71,271.82 483.4,271.4 C485.22,270.95 487.22,268.01 489.2,267.5 C491.3,266.96 495.13,267.52 497,267.9 C498.07,268.12 497.58,269.36 499,269.5 C502.29,269.84 510.65,269.5 512.7,269.5" fill="none" stroke="#8c2020" stroke-width="1.5" stroke-linejoin="round" stroke-linecap="round"/>
<path d="M326.7,328.6 C327.62,328.71 331.37,328.66 332.8,329.3 C333.98,329.83 331.9,332.33 335.4,332.5 C347.56,333.11 372.41,332.11 385,331.9 C392.33,331.78 397.8,332.06 401.8,331.4 C403.83,331.07 403.61,328.81 405.1,328.6 C407.21,328.3 411.65,329.11 413.8,329.7 C415.25,330.1 415.48,332.3 417.1,331.9 C420.07,331.16 425.6,327.73 429.1,325.9 C432.47,324.13 437.05,321.45 440,319.9 C442.2,318.75 443.28,317.35 446.25,316.9 C451.38,316.12 461.08,315.8 467,315.8 C472.33,315.8 479.74,317.18 483.75,316.9 C485.71,316.76 485.42,314.53 486.9,314.4 C489.17,314.2 494.16,314.96 496.25,315.8 C497.58,316.34 496.61,318.64 498.3,319 C501.61,319.72 510.71,319.34 512.9,319.4" fill="none" stroke="#ff2a8a" stroke-width="1.5" stroke-linejoin="round" stroke-linecap="round"/>
<path d="M326.7,335.2 C328,335.59 332.25,337.31 335.4,337.8 C339.54,338.45 346.51,338.81 351,339 C355.09,339.17 360.12,339.23 364,339 C367.86,338.78 373.34,338.24 376.8,337.5 C379.64,336.89 382.44,335.24 385,334.5 C387.66,333.74 391.9,333.68 394.2,332.5 C396.28,331.43 398.36,329.03 399.6,327 C400.97,324.77 401.9,320.48 402.9,318.3 C403.55,316.88 404.15,316.29 405.1,315 C406.58,312.99 409.31,309.28 411,307.3 C412.28,305.8 414.12,303.5 415,303.4 C415.7,303.32 415.47,307.01 416.25,306.7 C417.42,306.23 419.67,302.54 421.5,300.8 C423.58,298.82 426.96,295.71 429.3,294.3 C431.19,293.16 433.14,293.01 435.6,292.3 C439.26,291.24 445.54,290.38 449.7,288.4 C454.36,286.18 460.84,281.28 465,278.3 C468.55,275.76 472.55,272.59 475.4,270 C478.07,267.58 481.57,264.39 483.4,261.6 C485.14,258.96 485.41,254.24 487.3,251.9 C489.19,249.56 494.02,246.07 496,246 C497.53,245.95 497.51,251.22 499,251.5 C500.75,251.82 504.59,248.95 506.8,248 C508.7,247.18 511.82,245.96 512.7,245.6" fill="none" stroke="#1a961a" stroke-width="1.5" stroke-linejoin="round" stroke-linecap="round"/>
</g>
<rect x="515.1" y="210.9" width="30.5" height="84.1" fill="#fff" stroke="#c4c4c4" stroke-width="0.9"/>
<line x1="517.4" y1="217.6" x2="533.3" y2="217.6" stroke="#1a1a1a" stroke-width="1.3"/>
<text x="535" y="220.2" font-size="7.0" text-anchor="start" font-weight="normal" fill="#1a1a1a" class="ns">1</text>
<line x1="517.4" y1="225.75" x2="533.3" y2="225.75" stroke="#ff2020" stroke-width="1.3"/>
<text x="535" y="228.35" font-size="7.0" text-anchor="start" font-weight="normal" fill="#1a1a1a" class="ns">2</text>
<line x1="517.4" y1="233.9" x2="533.3" y2="233.9" stroke="#2020ff" stroke-width="1.3"/>
<text x="535" y="236.5" font-size="7.0" text-anchor="start" font-weight="normal" fill="#1a1a1a" class="ns">3</text>
<line x1="517.4" y1="242.05" x2="533.3" y2="242.05" stroke="#189898" stroke-width="1.3"/>
<text x="535" y="244.65" font-size="7.0" text-anchor="start" font-weight="normal" fill="#1a1a1a" class="ns">4</text>
<line x1="517.4" y1="250.2" x2="533.3" y2="250.2" stroke="#ff20ff" stroke-width="1.3"/>
<text x="535" y="252.8" font-size="7.0" text-anchor="start" font-weight="normal" fill="#1a1a1a" class="ns">5</text>
<line x1="517.4" y1="258.35" x2="533.3" y2="258.35" stroke="#949428" stroke-width="1.3"/>
<text x="535" y="260.95" font-size="7.0" text-anchor="start" font-weight="normal" fill="#1a1a1a" class="ns">6</text>
<line x1="517.4" y1="266.5" x2="533.3" y2="266.5" stroke="#22228c" stroke-width="1.3"/>
<text x="535" y="269.1" font-size="7.0" text-anchor="start" font-weight="normal" fill="#1a1a1a" class="ns">7</text>
<line x1="517.4" y1="274.65" x2="533.3" y2="274.65" stroke="#8c2020" stroke-width="1.3"/>
<text x="535" y="277.25" font-size="7.0" text-anchor="start" font-weight="normal" fill="#1a1a1a" class="ns">8</text>
<line x1="517.4" y1="282.8" x2="533.3" y2="282.8" stroke="#ff2a8a" stroke-width="1.3"/>
<text x="535" y="285.4" font-size="7.0" text-anchor="start" font-weight="normal" fill="#1a1a1a" class="ns">9</text>
<line x1="517.4" y1="290.95" x2="533.3" y2="290.95" stroke="#1a961a" stroke-width="1.3"/>
<text x="535" y="293.55" font-size="7.0" text-anchor="start" font-weight="normal" fill="#1a1a1a" class="ns">10</text>
<text x="420" y="374.6" font-size="10.0" text-anchor="middle" font-weight="normal" fill="#1a1a1a" >Time (days)</text>
<text x="0" y="0" font-size="10.0" text-anchor="middle" font-weight="normal" fill="#1a1a1a" transform="translate(296.2,281) rotate(-90)">Tau (seconds)</text>
<defs><clipPath id="clipB"><rect x="58" y="209.9" width="186.8" height="137.3"/></clipPath><clipPath id="clipR"><rect x="327" y="211" width="186" height="137.3"/></clipPath></defs>
</svg>
</body></html>
